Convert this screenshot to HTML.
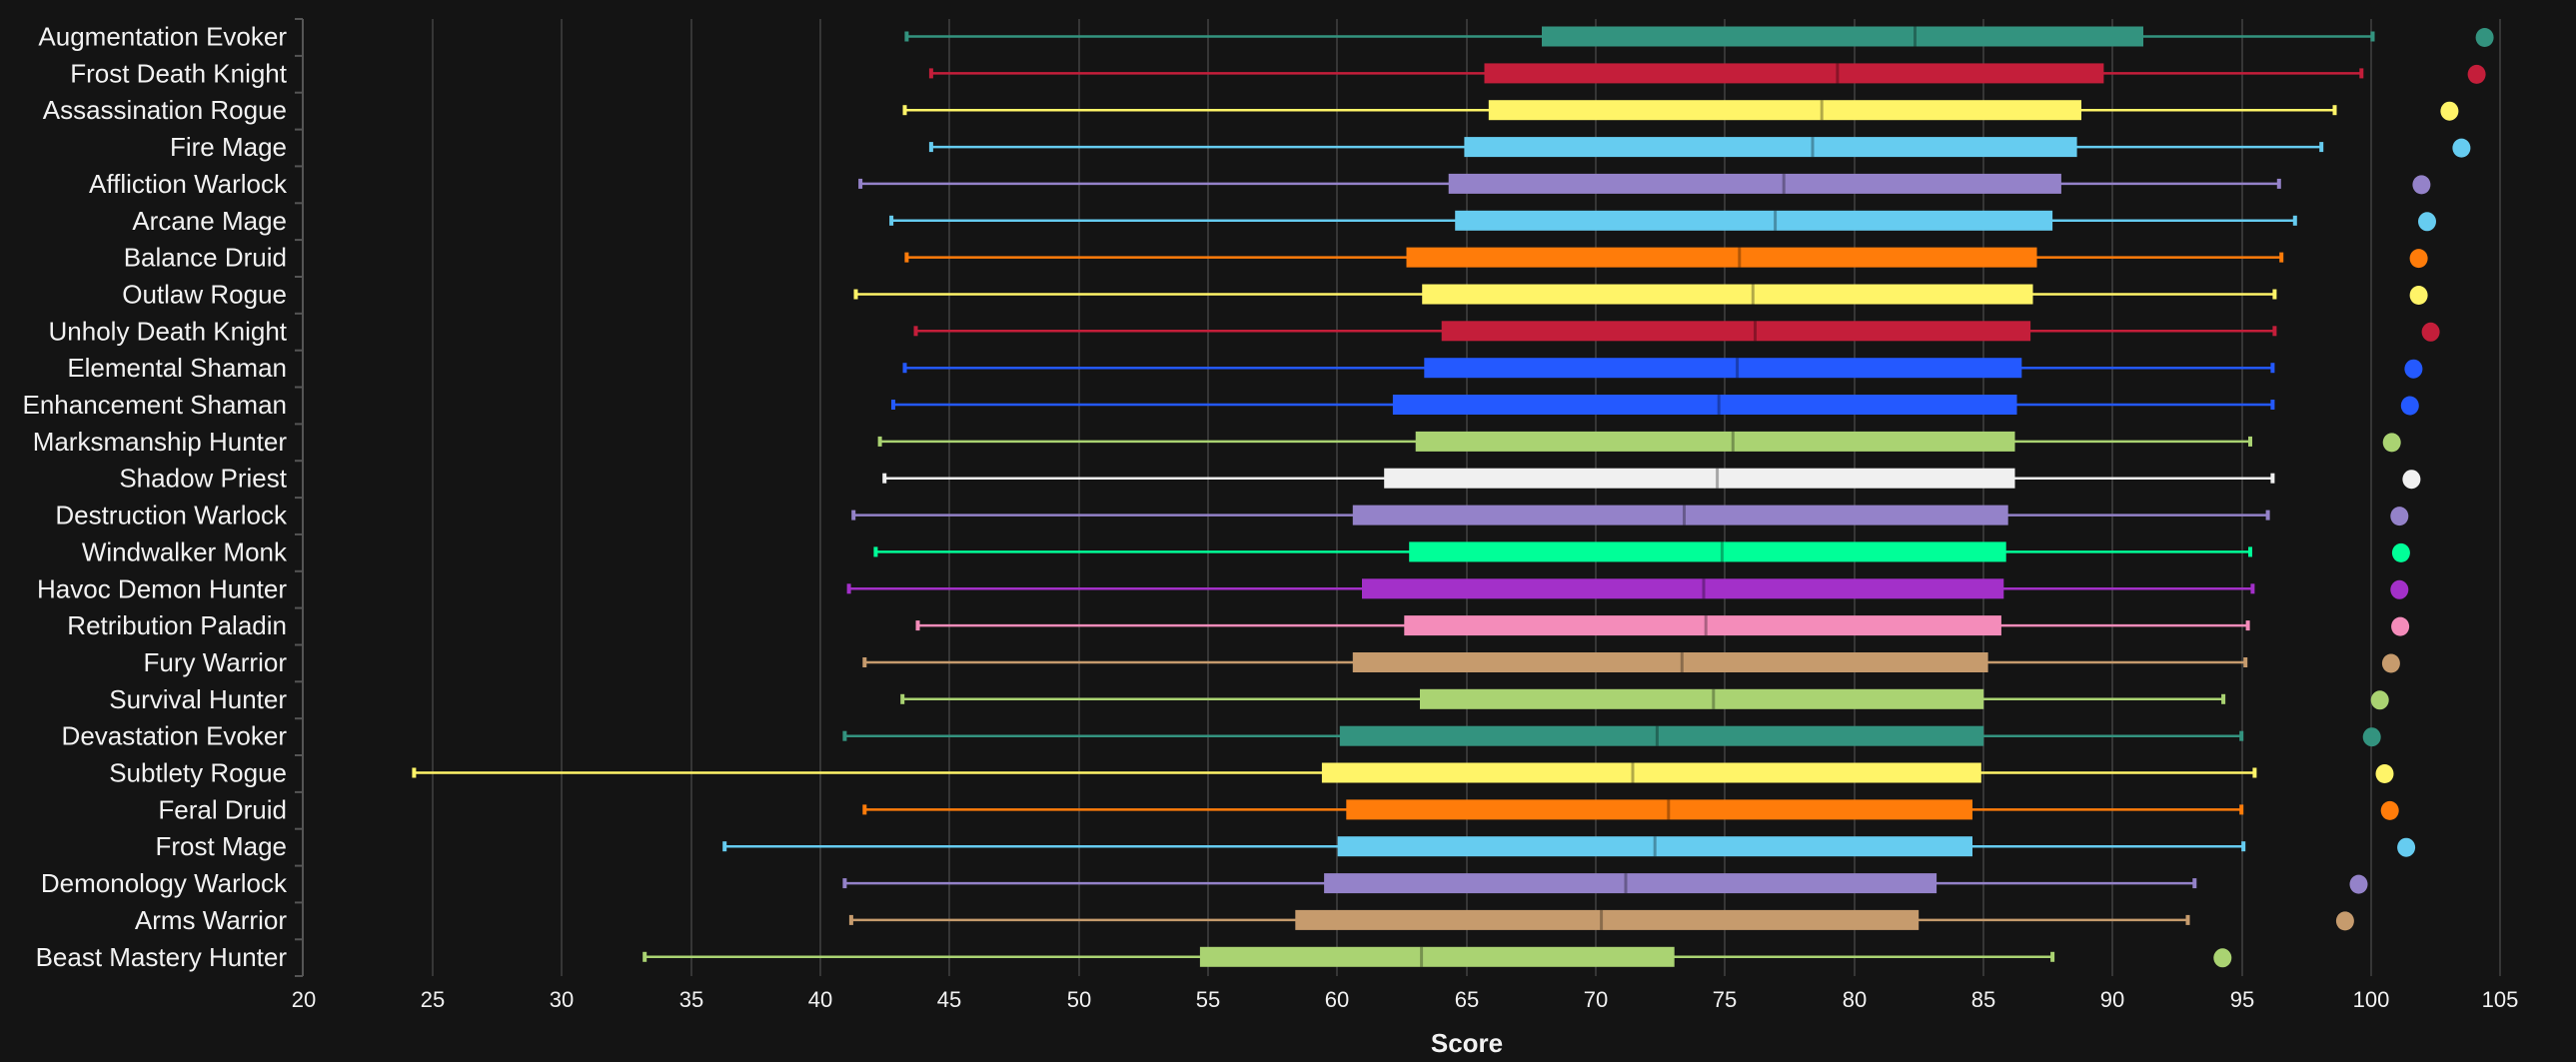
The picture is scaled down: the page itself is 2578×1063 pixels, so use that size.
<!DOCTYPE html>
<html><head><meta charset="utf-8"><style>
html,body{margin:0;padding:0;background:#141414;}
svg{display:block;}
text{font-family:"Liberation Sans",sans-serif;fill:#f2f2f2;}
</style></head><body>
<svg width="2578" height="1063" viewBox="0 0 2578 1063" xmlns="http://www.w3.org/2000/svg">
<rect width="2578" height="1063" fill="#141414"/>
<g stroke="#363636" stroke-width="2">
<line x1="433" y1="19" x2="433" y2="977"/><line x1="562" y1="19" x2="562" y2="977"/><line x1="692" y1="19" x2="692" y2="977"/><line x1="821" y1="19" x2="821" y2="977"/><line x1="950" y1="19" x2="950" y2="977"/><line x1="1080" y1="19" x2="1080" y2="977"/><line x1="1209" y1="19" x2="1209" y2="977"/><line x1="1338" y1="19" x2="1338" y2="977"/><line x1="1468" y1="19" x2="1468" y2="977"/><line x1="1597" y1="19" x2="1597" y2="977"/><line x1="1726" y1="19" x2="1726" y2="977"/><line x1="1856" y1="19" x2="1856" y2="977"/><line x1="1985" y1="19" x2="1985" y2="977"/><line x1="2114" y1="19" x2="2114" y2="977"/><line x1="2244" y1="19" x2="2244" y2="977"/><line x1="2373" y1="19" x2="2373" y2="977"/><line x1="2502" y1="19" x2="2502" y2="977"/>
</g>
<g stroke="#555" stroke-width="2">
<line x1="303" y1="19" x2="303" y2="977"/>
<line x1="295" y1="19" x2="303" y2="19"/><line x1="295" y1="55.9" x2="303" y2="55.9"/><line x1="295" y1="92.7" x2="303" y2="92.7"/><line x1="295" y1="129.6" x2="303" y2="129.6"/><line x1="295" y1="166.4" x2="303" y2="166.4"/><line x1="295" y1="203.3" x2="303" y2="203.3"/><line x1="295" y1="240.1" x2="303" y2="240.1"/><line x1="295" y1="277" x2="303" y2="277"/><line x1="295" y1="313.8" x2="303" y2="313.8"/><line x1="295" y1="350.7" x2="303" y2="350.7"/><line x1="295" y1="387.5" x2="303" y2="387.5"/><line x1="295" y1="424.4" x2="303" y2="424.4"/><line x1="295" y1="461.2" x2="303" y2="461.2"/><line x1="295" y1="498.1" x2="303" y2="498.1"/><line x1="295" y1="534.9" x2="303" y2="534.9"/><line x1="295" y1="571.8" x2="303" y2="571.8"/><line x1="295" y1="608.6" x2="303" y2="608.6"/><line x1="295" y1="645.5" x2="303" y2="645.5"/><line x1="295" y1="682.3" x2="303" y2="682.3"/><line x1="295" y1="719.2" x2="303" y2="719.2"/><line x1="295" y1="756" x2="303" y2="756"/><line x1="295" y1="792.9" x2="303" y2="792.9"/><line x1="295" y1="829.7" x2="303" y2="829.7"/><line x1="295" y1="866.6" x2="303" y2="866.6"/><line x1="295" y1="903.4" x2="303" y2="903.4"/><line x1="295" y1="940.3" x2="303" y2="940.3"/><line x1="295" y1="977" x2="303" y2="977"/>
</g>

<g stroke-width="2.5">
<g transform="translate(0,36.5)"><line x1="907.4" x2="2374.5" y1="0" y2="0" stroke="#33937F"/><rect x="905.4" y="-5" width="4" height="10" fill="#33937F"/><rect x="2372.5" y="-5" width="4" height="10" fill="#33937F"/><rect x="1543" y="-10" width="602" height="20" fill="#33937F"/><rect x="1915" y="-10" width="3" height="20" fill="#000" opacity="0.3"/><ellipse cx="2486.6" cy="1" rx="9" ry="9.5" fill="#33937F"/></g>
<g transform="translate(0,73.4)"><line x1="931.9" x2="2363.3" y1="0" y2="0" stroke="#C41E3A"/><rect x="929.9" y="-5" width="4" height="10" fill="#C41E3A"/><rect x="2361.3" y="-5" width="4" height="10" fill="#C41E3A"/><rect x="1485.5" y="-10" width="619.9" height="20" fill="#C41E3A"/><rect x="1837.4" y="-10" width="3" height="20" fill="#000" opacity="0.3"/><ellipse cx="2478.6" cy="1" rx="9" ry="9.5" fill="#C41E3A"/></g>
<g transform="translate(0,110.2)"><line x1="905.5" x2="2336.5" y1="0" y2="0" stroke="#FFF468"/><rect x="903.5" y="-5" width="4" height="10" fill="#FFF468"/><rect x="2334.5" y="-5" width="4" height="10" fill="#FFF468"/><rect x="1489.8" y="-10" width="593.2" height="20" fill="#FFF468"/><rect x="1821.7" y="-10" width="3" height="20" fill="#000" opacity="0.3"/><ellipse cx="2451.4" cy="1" rx="9" ry="9.5" fill="#FFF468"/></g>
<g transform="translate(0,147.1)"><line x1="931.9" x2="2323.2" y1="0" y2="0" stroke="#66CCF0"/><rect x="929.9" y="-5" width="4" height="10" fill="#66CCF0"/><rect x="2321.2" y="-5" width="4" height="10" fill="#66CCF0"/><rect x="1465.4" y="-10" width="613.2" height="20" fill="#66CCF0"/><rect x="1812.5" y="-10" width="3" height="20" fill="#000" opacity="0.3"/><ellipse cx="2463.4" cy="1" rx="9" ry="9.5" fill="#66CCF0"/></g>
<g transform="translate(0,183.9)"><line x1="861.1" x2="2280.8" y1="0" y2="0" stroke="#9482C9"/><rect x="859.1" y="-5" width="4" height="10" fill="#9482C9"/><rect x="2278.8" y="-5" width="4" height="10" fill="#9482C9"/><rect x="1449.7" y="-10" width="613.2" height="20" fill="#9482C9"/><rect x="1783.7" y="-10" width="3" height="20" fill="#000" opacity="0.3"/><ellipse cx="2423.4" cy="1" rx="9" ry="9.5" fill="#9482C9"/></g>
<g transform="translate(0,220.8)"><line x1="892.1" x2="2296.8" y1="0" y2="0" stroke="#66CCF0"/><rect x="890.1" y="-5" width="4" height="10" fill="#66CCF0"/><rect x="2294.8" y="-5" width="4" height="10" fill="#66CCF0"/><rect x="1456.2" y="-10" width="597.9" height="20" fill="#66CCF0"/><rect x="1775.1" y="-10" width="3" height="20" fill="#000" opacity="0.3"/><ellipse cx="2429" cy="1" rx="9" ry="9.5" fill="#66CCF0"/></g>
<g transform="translate(0,257.6)"><line x1="907.4" x2="2283.2" y1="0" y2="0" stroke="#FF7C0A"/><rect x="905.4" y="-5" width="4" height="10" fill="#FF7C0A"/><rect x="2281.2" y="-5" width="4" height="10" fill="#FF7C0A"/><rect x="1407.5" y="-10" width="631" height="20" fill="#FF7C0A"/><rect x="1739.3" y="-10" width="3" height="20" fill="#000" opacity="0.3"/><ellipse cx="2420.6" cy="1" rx="9" ry="9.5" fill="#FF7C0A"/></g>
<g transform="translate(0,294.5)"><line x1="856.5" x2="2276.4" y1="0" y2="0" stroke="#FFF468"/><rect x="854.5" y="-5" width="4" height="10" fill="#FFF468"/><rect x="2274.4" y="-5" width="4" height="10" fill="#FFF468"/><rect x="1423.2" y="-10" width="611.3" height="20" fill="#FFF468"/><rect x="1752.8" y="-10" width="3" height="20" fill="#000" opacity="0.3"/><ellipse cx="2420.6" cy="1" rx="9" ry="9.5" fill="#FFF468"/></g>
<g transform="translate(0,331.3)"><line x1="916.5" x2="2276.4" y1="0" y2="0" stroke="#C41E3A"/><rect x="914.5" y="-5" width="4" height="10" fill="#C41E3A"/><rect x="2274.4" y="-5" width="4" height="10" fill="#C41E3A"/><rect x="1442.7" y="-10" width="589.4" height="20" fill="#C41E3A"/><rect x="1755" y="-10" width="3" height="20" fill="#000" opacity="0.3"/><ellipse cx="2432.6" cy="1" rx="9" ry="9.5" fill="#C41E3A"/></g>
<g transform="translate(0,368.2)"><line x1="905.5" x2="2274.4" y1="0" y2="0" stroke="#2459FF"/><rect x="903.5" y="-5" width="4" height="10" fill="#2459FF"/><rect x="2272.4" y="-5" width="4" height="10" fill="#2459FF"/><rect x="1425.3" y="-10" width="598" height="20" fill="#2459FF"/><rect x="1737.1" y="-10" width="3" height="20" fill="#000" opacity="0.3"/><ellipse cx="2415.4" cy="1" rx="9" ry="9.5" fill="#2459FF"/></g>
<g transform="translate(0,405)"><line x1="894" x2="2274.4" y1="0" y2="0" stroke="#2459FF"/><rect x="892" y="-5" width="4" height="10" fill="#2459FF"/><rect x="2272.4" y="-5" width="4" height="10" fill="#2459FF"/><rect x="1393.9" y="-10" width="624.6" height="20" fill="#2459FF"/><rect x="1718.7" y="-10" width="3" height="20" fill="#000" opacity="0.3"/><ellipse cx="2411.8" cy="1" rx="9" ry="9.5" fill="#2459FF"/></g>
<g transform="translate(0,441.9)"><line x1="880.6" x2="2252" y1="0" y2="0" stroke="#AAD372"/><rect x="878.6" y="-5" width="4" height="10" fill="#AAD372"/><rect x="2250" y="-5" width="4" height="10" fill="#AAD372"/><rect x="1416.7" y="-10" width="599.8" height="20" fill="#AAD372"/><rect x="1732.8" y="-10" width="3" height="20" fill="#000" opacity="0.3"/><ellipse cx="2393.7" cy="1" rx="9" ry="9.5" fill="#AAD372"/></g>
<g transform="translate(0,478.7)"><line x1="885.2" x2="2274.4" y1="0" y2="0" stroke="#F0F0F0"/><rect x="883.2" y="-5" width="4" height="10" fill="#F0F0F0"/><rect x="2272.4" y="-5" width="4" height="10" fill="#F0F0F0"/><rect x="1385.2" y="-10" width="631.3" height="20" fill="#F0F0F0"/><rect x="1717.1" y="-10" width="3" height="20" fill="#000" opacity="0.3"/><ellipse cx="2413.4" cy="1" rx="9" ry="9.5" fill="#F0F0F0"/></g>
<g transform="translate(0,515.6)"><line x1="854.2" x2="2269.6" y1="0" y2="0" stroke="#9482C9"/><rect x="852.2" y="-5" width="4" height="10" fill="#9482C9"/><rect x="2267.6" y="-5" width="4" height="10" fill="#9482C9"/><rect x="1353.8" y="-10" width="655.9" height="20" fill="#9482C9"/><rect x="1684" y="-10" width="3" height="20" fill="#000" opacity="0.3"/><ellipse cx="2401.3" cy="1" rx="9" ry="9.5" fill="#9482C9"/></g>
<g transform="translate(0,552.4)"><line x1="876.4" x2="2252" y1="0" y2="0" stroke="#00FF98"/><rect x="874.4" y="-5" width="4" height="10" fill="#00FF98"/><rect x="2250" y="-5" width="4" height="10" fill="#00FF98"/><rect x="1410.2" y="-10" width="597.5" height="20" fill="#00FF98"/><rect x="1721.9" y="-10" width="3" height="20" fill="#000" opacity="0.3"/><ellipse cx="2402.9" cy="1" rx="9" ry="9.5" fill="#00FF98"/></g>
<g transform="translate(0,589.3)"><line x1="849.6" x2="2254.4" y1="0" y2="0" stroke="#A330C9"/><rect x="847.6" y="-5" width="4" height="10" fill="#A330C9"/><rect x="2252.4" y="-5" width="4" height="10" fill="#A330C9"/><rect x="1363" y="-10" width="642.3" height="20" fill="#A330C9"/><rect x="1703.5" y="-10" width="3" height="20" fill="#000" opacity="0.3"/><ellipse cx="2401.3" cy="1" rx="9" ry="9.5" fill="#A330C9"/></g>
<g transform="translate(0,626.1)"><line x1="918.5" x2="2249.6" y1="0" y2="0" stroke="#F48CBA"/><rect x="916.5" y="-5" width="4" height="10" fill="#F48CBA"/><rect x="2247.6" y="-5" width="4" height="10" fill="#F48CBA"/><rect x="1405.3" y="-10" width="597.6" height="20" fill="#F48CBA"/><rect x="1705.7" y="-10" width="3" height="20" fill="#000" opacity="0.3"/><ellipse cx="2402.1" cy="1" rx="9" ry="9.5" fill="#F48CBA"/></g>
<g transform="translate(0,663)"><line x1="865.3" x2="2247.2" y1="0" y2="0" stroke="#C69B6D"/><rect x="863.3" y="-5" width="4" height="10" fill="#C69B6D"/><rect x="2245.2" y="-5" width="4" height="10" fill="#C69B6D"/><rect x="1353.8" y="-10" width="635.8" height="20" fill="#C69B6D"/><rect x="1681.8" y="-10" width="3" height="20" fill="#000" opacity="0.3"/><ellipse cx="2392.9" cy="1" rx="9" ry="9.5" fill="#C69B6D"/></g>
<g transform="translate(0,699.8)"><line x1="903.2" x2="2225.1" y1="0" y2="0" stroke="#AAD372"/><rect x="901.2" y="-5" width="4" height="10" fill="#AAD372"/><rect x="2223.1" y="-5" width="4" height="10" fill="#AAD372"/><rect x="1421" y="-10" width="564.2" height="20" fill="#AAD372"/><rect x="1713.3" y="-10" width="3" height="20" fill="#000" opacity="0.3"/><ellipse cx="2381.7" cy="1" rx="9" ry="9.5" fill="#AAD372"/></g>
<g transform="translate(0,736.7)"><line x1="845.4" x2="2243.2" y1="0" y2="0" stroke="#33937F"/><rect x="843.4" y="-5" width="4" height="10" fill="#33937F"/><rect x="2241.2" y="-5" width="4" height="10" fill="#33937F"/><rect x="1340.8" y="-10" width="644.4" height="20" fill="#33937F"/><rect x="1656.9" y="-10" width="3" height="20" fill="#000" opacity="0.3"/><ellipse cx="2373.7" cy="1" rx="9" ry="9.5" fill="#33937F"/></g>
<g transform="translate(0,773.5)"><line x1="414.4" x2="2256.4" y1="0" y2="0" stroke="#FFF468"/><rect x="412.4" y="-5" width="4" height="10" fill="#FFF468"/><rect x="2254.4" y="-5" width="4" height="10" fill="#FFF468"/><rect x="1322.9" y="-10" width="659.9" height="20" fill="#FFF468"/><rect x="1632.5" y="-10" width="3" height="20" fill="#000" opacity="0.3"/><ellipse cx="2386.5" cy="1" rx="9" ry="9.5" fill="#FFF468"/></g>
<g transform="translate(0,810.4)"><line x1="865.3" x2="2243.2" y1="0" y2="0" stroke="#FF7C0A"/><rect x="863.3" y="-5" width="4" height="10" fill="#FF7C0A"/><rect x="2241.2" y="-5" width="4" height="10" fill="#FF7C0A"/><rect x="1347.3" y="-10" width="626.7" height="20" fill="#FF7C0A"/><rect x="1668.3" y="-10" width="3" height="20" fill="#000" opacity="0.3"/><ellipse cx="2391.7" cy="1" rx="9" ry="9.5" fill="#FF7C0A"/></g>
<g transform="translate(0,847.2)"><line x1="725.2" x2="2245.2" y1="0" y2="0" stroke="#66CCF0"/><rect x="723.2" y="-5" width="4" height="10" fill="#66CCF0"/><rect x="2243.2" y="-5" width="4" height="10" fill="#66CCF0"/><rect x="1338.6" y="-10" width="635.4" height="20" fill="#66CCF0"/><rect x="1654.7" y="-10" width="3" height="20" fill="#000" opacity="0.3"/><ellipse cx="2408.1" cy="1" rx="9" ry="9.5" fill="#66CCF0"/></g>
<g transform="translate(0,884.1)"><line x1="845.4" x2="2196.3" y1="0" y2="0" stroke="#9482C9"/><rect x="843.4" y="-5" width="4" height="10" fill="#9482C9"/><rect x="2194.3" y="-5" width="4" height="10" fill="#9482C9"/><rect x="1325.1" y="-10" width="613" height="20" fill="#9482C9"/><rect x="1625.5" y="-10" width="3" height="20" fill="#000" opacity="0.3"/><ellipse cx="2360.5" cy="1" rx="9" ry="9.5" fill="#9482C9"/></g>
<g transform="translate(0,920.9)"><line x1="851.9" x2="2189.5" y1="0" y2="0" stroke="#C69B6D"/><rect x="849.9" y="-5" width="4" height="10" fill="#C69B6D"/><rect x="2187.5" y="-5" width="4" height="10" fill="#C69B6D"/><rect x="1296.3" y="-10" width="623.9" height="20" fill="#C69B6D"/><rect x="1601.1" y="-10" width="3" height="20" fill="#000" opacity="0.3"/><ellipse cx="2346.9" cy="1" rx="9" ry="9.5" fill="#C69B6D"/></g>
<g transform="translate(0,957.8)"><line x1="645.2" x2="2054.1" y1="0" y2="0" stroke="#AAD372"/><rect x="643.2" y="-5" width="4" height="10" fill="#AAD372"/><rect x="2052.1" y="-5" width="4" height="10" fill="#AAD372"/><rect x="1200.9" y="-10" width="474.8" height="20" fill="#AAD372"/><rect x="1421.1" y="-10" width="3" height="20" fill="#000" opacity="0.3"/><ellipse cx="2224.3" cy="1" rx="9" ry="9.5" fill="#AAD372"/></g>
</g>

<g font-size="26" text-anchor="end">
<text x="287" y="45.5">Augmentation Evoker</text>
<text x="287" y="82.4">Frost Death Knight</text>
<text x="287" y="119.2">Assassination Rogue</text>
<text x="287" y="156.1">Fire Mage</text>
<text x="287" y="192.9">Affliction Warlock</text>
<text x="287" y="229.8">Arcane Mage</text>
<text x="287" y="266.6">Balance Druid</text>
<text x="287" y="303.5">Outlaw Rogue</text>
<text x="287" y="340.3">Unholy Death Knight</text>
<text x="287" y="377.2">Elemental Shaman</text>
<text x="287" y="414">Enhancement Shaman</text>
<text x="287" y="450.9">Marksmanship Hunter</text>
<text x="287" y="487.7">Shadow Priest</text>
<text x="287" y="524.6">Destruction Warlock</text>
<text x="287" y="561.4">Windwalker Monk</text>
<text x="287" y="598.3">Havoc Demon Hunter</text>
<text x="287" y="635.1">Retribution Paladin</text>
<text x="287" y="672">Fury Warrior</text>
<text x="287" y="708.8">Survival Hunter</text>
<text x="287" y="745.7">Devastation Evoker</text>
<text x="287" y="782.5">Subtlety Rogue</text>
<text x="287" y="819.4">Feral Druid</text>
<text x="287" y="856.2">Frost Mage</text>
<text x="287" y="893.1">Demonology Warlock</text>
<text x="287" y="929.9">Arms Warrior</text>
<text x="287" y="966.8">Beast Mastery Hunter</text>
</g>
<g font-size="22" text-anchor="middle">
<text x="304" y="1008">20</text><text x="433" y="1008">25</text><text x="562" y="1008">30</text><text x="692" y="1008">35</text><text x="821" y="1008">40</text><text x="950" y="1008">45</text><text x="1080" y="1008">50</text><text x="1209" y="1008">55</text><text x="1338" y="1008">60</text><text x="1468" y="1008">65</text><text x="1597" y="1008">70</text><text x="1726" y="1008">75</text><text x="1856" y="1008">80</text><text x="1985" y="1008">85</text><text x="2114" y="1008">90</text><text x="2244" y="1008">95</text><text x="2373" y="1008">100</text><text x="2502" y="1008">105</text>
</g>
<text x="1468" y="1053" font-size="26" font-weight="bold" text-anchor="middle">Score</text>
</svg>
</body></html>
